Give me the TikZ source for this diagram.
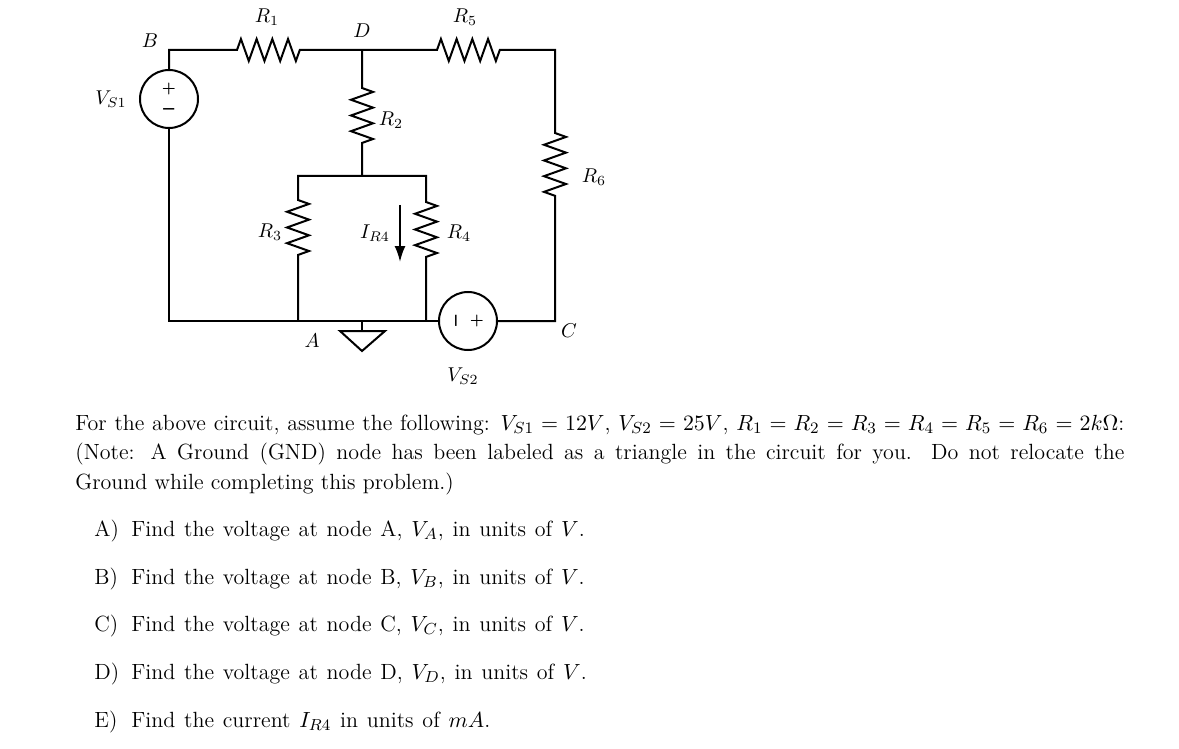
\documentclass[tikz,border=0pt]{standalone}
\usepackage{amsmath}
\usepackage{amssymb}
\usepackage{graphicx}
\usetikzlibrary{arrows.meta}
\usetikzlibrary{decorations.pathmorphing}

\newcommand{\itemlbl}[1]{\spaceskip=4.4pt\makebox[18.5pt][l]{#1}}
\newcommand{\boldminus}{\scalebox{1.25}[2.4]{\smash{\raisebox{-1.9pt}{--}}}}

\begin{document}
\begin{tikzpicture}[x=0.5pt,y=-0.5pt,
  wire/.style={draw, line width=1pt, line join=miter},
  res/.style={decoration={zigzag, segment length=7.85pt, amplitude=5.5pt}},
  source/.style={circle, draw, line width=1pt, minimum size=29pt, inner sep=0pt},
  sign/.style={inner sep=0pt, font=\fontsize{7}{7}\selectfont\bfseries},
  lbl/.style={inner sep=0pt},
  txt/.style={inner sep=0pt, anchor=base west, font=\fontsize{11}{14.75}\selectfont}]
  \useasboundingbox (0,0) rectangle (1179,749);

  % corners of the circuit
  \coordinate (B) at (169,50);
  \coordinate (D) at (362,50);
  \coordinate (TR) at (555,50);
  \coordinate (C) at (555,321);
  \coordinate (BL) at (169,321);
  \coordinate (A) at (298,321);
  \coordinate (N) at (426,321);
  \coordinate (GND) at (362,321);
  \coordinate (J) at (362,176);
  \coordinate (JL) at (298,176);
  \coordinate (JR) at (426,176);

  % sources
  \node[source] (Vs1) at (169,99) {};
  \node[source] (Vs2) at (468,321) {};
  \node[sign] (Vs1p) at (169,89) {+};
  \node[sign] (Vs1m) at (169,109) {\boldminus};
  \node[sign, rotate=90] (Vs2m) at (456,321) {\boldminus};
  \node[sign] (Vs2p) at (477,321) {+};

  % wires and resistors
  \draw[wire] (Vs1.north) -- (B) -- (237,50)
    decorate[res] {-- (300,50)} -- (D) -- (437,50)
    decorate[res] {-- (500,50)} -- (TR) -- (555,133)
    decorate[res] {-- (555,197)} -- (C) -- (Vs2.east);
  \draw[wire] (D) -- (362,88) decorate[res] {-- (362,150)} -- (J);
  \draw[wire] (J) -- (JL) -- (298,200) decorate[res] {-- (298,262)} -- (A);
  \draw[wire] (J) -- (JR) -- (426,202) decorate[res] {-- (426,264)} -- (N);
  \draw[wire] (Vs1.south) -- (BL) -- (Vs2.west);

  % ground
  \draw[wire] (GND) -- (362,331);
  \draw[wire] (340,331) -- (385,331) -- (362,351) -- cycle;

  % current arrow
  \draw[line width=1pt, -{Latex[length=8pt,width=5.5pt]}] (400,205) -- (400,262);

  % labels
  \node[lbl] (lR1) at (267,17) {$R_1$};
  \node[lbl] (lR5) at (465,17) {$R_5$};
  \node[lbl] (lB) at (150,41) {$B$};
  \node[lbl] (lD) at (362,31) {$D$};
  \node[lbl] (lVs1) at (111,99) {$V_{S1}$};
  \node[lbl] (lR2) at (391,120) {$R_2$};
  \node[lbl] (lR6) at (594,177) {$R_6$};
  \node[lbl] (lR3) at (270,232) {$R_3$};
  \node[lbl] (lIR4) at (375,233) {$I_{R4}$};
  \node[lbl] (lR4) at (459,233) {$R_4$};
  \node[lbl] (lA) at (312,341) {$A$};
  \node[lbl] (lC) at (569,331) {$C$};
  \node[lbl] (lVs2) at (463,376) {$V_{S2}$};

  % problem text
  \node[inner sep=0pt, anchor=north west, text width=524.5pt, align=justify,
    font=\fontsize{11}{14.75}\selectfont] (para) at (75,414.5)
    {For the above circuit, assume the following: $V_{S1}=12V$, $V_{S2}=25V$, $R_1=R_2=R_3=R_4=R_5=R_6=2k\Omega$:\linebreak (Note: A Ground (GND) node has been labeled as a triangle in the circuit for you. Do not relocate the\linebreak Ground while completing this problem.)\par};
  \node[txt] (qA) at (94,536) {\itemlbl{A)}Find the voltage at node A, $V_A$, in units of $V$.};
  \node[txt] (qB) at (94,584) {\itemlbl{B)}Find the voltage at node B, $V_B$, in units of $V$.};
  \node[txt] (qC) at (94,631) {\itemlbl{C)}Find the voltage at node C, $V_C$, in units of $V$.};
  \node[txt] (qD) at (94,679) {\itemlbl{D)}Find the voltage at node D, $V_D$, in units of $V$.};
  \node[txt] (qE) at (94,727) {\itemlbl{E)}Find the current $I_{R4}$ in units of $mA$.};
\end{tikzpicture}
\end{document}
